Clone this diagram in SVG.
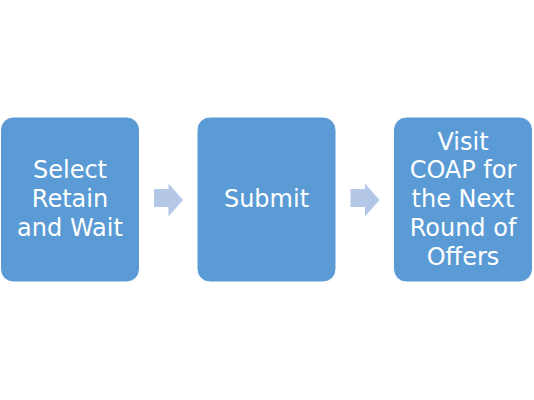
<svg xmlns="http://www.w3.org/2000/svg" width="534" height="400" viewBox="0 0 534 400">
<style>
.box{fill:#5B9BD5;stroke:#ffffff;stroke-width:1}
.lbl{fill:#ffffff;font-family:"DejaVu Sans",sans-serif;font-size:24px;text-anchor:middle}
.arr{fill:#B4C7E7}
</style>
<rect width="534" height="400" fill="#ffffff"/>
<g id="node1">
<rect class="box" x="0.5" y="117" width="139" height="165" rx="13"/>
<text class="lbl"><tspan x="70" y="178">Select</tspan><tspan x="70" y="207">Retain</tspan><tspan x="70" y="236">and Wait</tspan></text>
</g>
<g id="node2">
<rect class="box" x="197" y="117" width="139" height="165" rx="13"/>
<text class="lbl" x="266.5" y="207">Submit</text>
</g>
<g id="node3">
<rect class="box" x="393.5" y="117" width="139" height="165" rx="13"/>
<text class="lbl"><tspan x="463" y="150">Visit</tspan><tspan x="463" y="178">COAP for</tspan><tspan x="463" y="207">the Next</tspan><tspan x="463" y="236">Round of</tspan><tspan x="463" y="265">Offers</tspan></text>
</g>
<g id="connectors">
<polygon class="arr" points="154,189 168.5,189 168.5,183.5 183,200 168.5,216.5 168.5,207 154,207"/>
<polygon class="arr" points="350.5,189 365,189 365,183.5 379.5,200 365,216.5 365,207 350.5,207"/>
</g>
</svg>
